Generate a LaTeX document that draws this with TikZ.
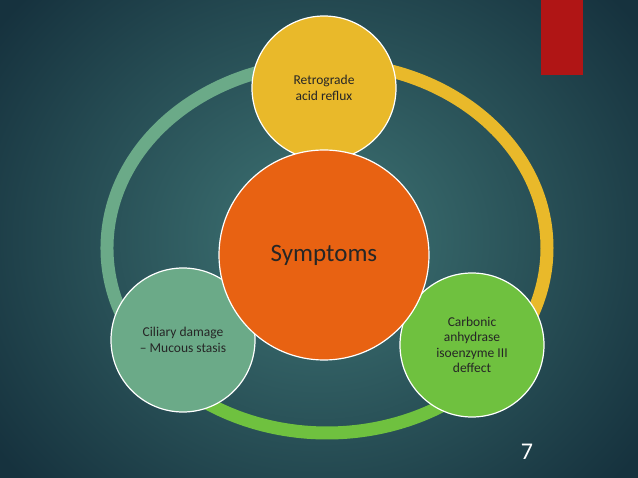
\documentclass[tikz,border=0pt]{standalone}
\usepackage{fontspec}
\setmainfont{Carlito}
\definecolor{bgin}{HTML}{3F7575}
\definecolor{bgout}{HTML}{16323E}
\definecolor{cyel}{HTML}{E9B92A}
\definecolor{cora}{HTML}{E86212}
\definecolor{cteal}{HTML}{6BAA88}
\definecolor{cgrn}{HTML}{6FC13F}
\definecolor{cred}{HTML}{B01515}
\definecolor{txt}{HTML}{262626}
\begin{document}
\begin{tikzpicture}[x=1pt,y=-1pt,
  circ/.style={circle,draw=white,line width=1.2pt,text=txt,align=center,inner sep=0pt},
  ringseg/.style={line width=13pt}]
\useasboundingbox (0,0) rectangle (638,478);
\shade[inner color=bgin,outer color=bgout] (-80,-120) rectangle (718,598);
\fill[cred] (541,0) rectangle (583,75);
\coordinate (rc) at (327,248);
\draw[ringseg,cyel] (rc) ++({220*cos(-90)},{185*sin(-90)}) arc[start angle=-90,end angle=38,x radius=220,y radius=185];
\draw[ringseg,cgrn] (rc) ++({220*cos(38)},{185*sin(38)}) arc[start angle=38,end angle=146,x radius=220,y radius=185];
\draw[ringseg,cteal] (rc) ++({220*cos(146)},{185*sin(146)}) arc[start angle=146,end angle=270,x radius=220,y radius=185];
\node[circ,fill=cyel,minimum size=144pt,font=\fontsize{13.5}{15.5}\selectfont] (top) at (324,88) {Retrograde\\acid reflux};
\node[circ,fill=cteal,minimum size=144pt,font=\fontsize{13.5}{15.5}\selectfont] (left) at (183,340) {Ciliary damage\\– Mucous stasis};
\node[circ,fill=cgrn,minimum size=144pt,font=\fontsize{13.5}{15.5}\selectfont] (right) at (472,345) {Carbonic\\anhydrase\\isoenzyme III\\deffect};
\node[circ,fill=cora,minimum size=210pt,font=\fontsize{25}{29}\selectfont] (ctr) at (324,255) {Symptoms};
\node[text=white,font=\fontsize{24}{28}\selectfont] (num) at (527,452) {7};
\end{tikzpicture}
\end{document}
